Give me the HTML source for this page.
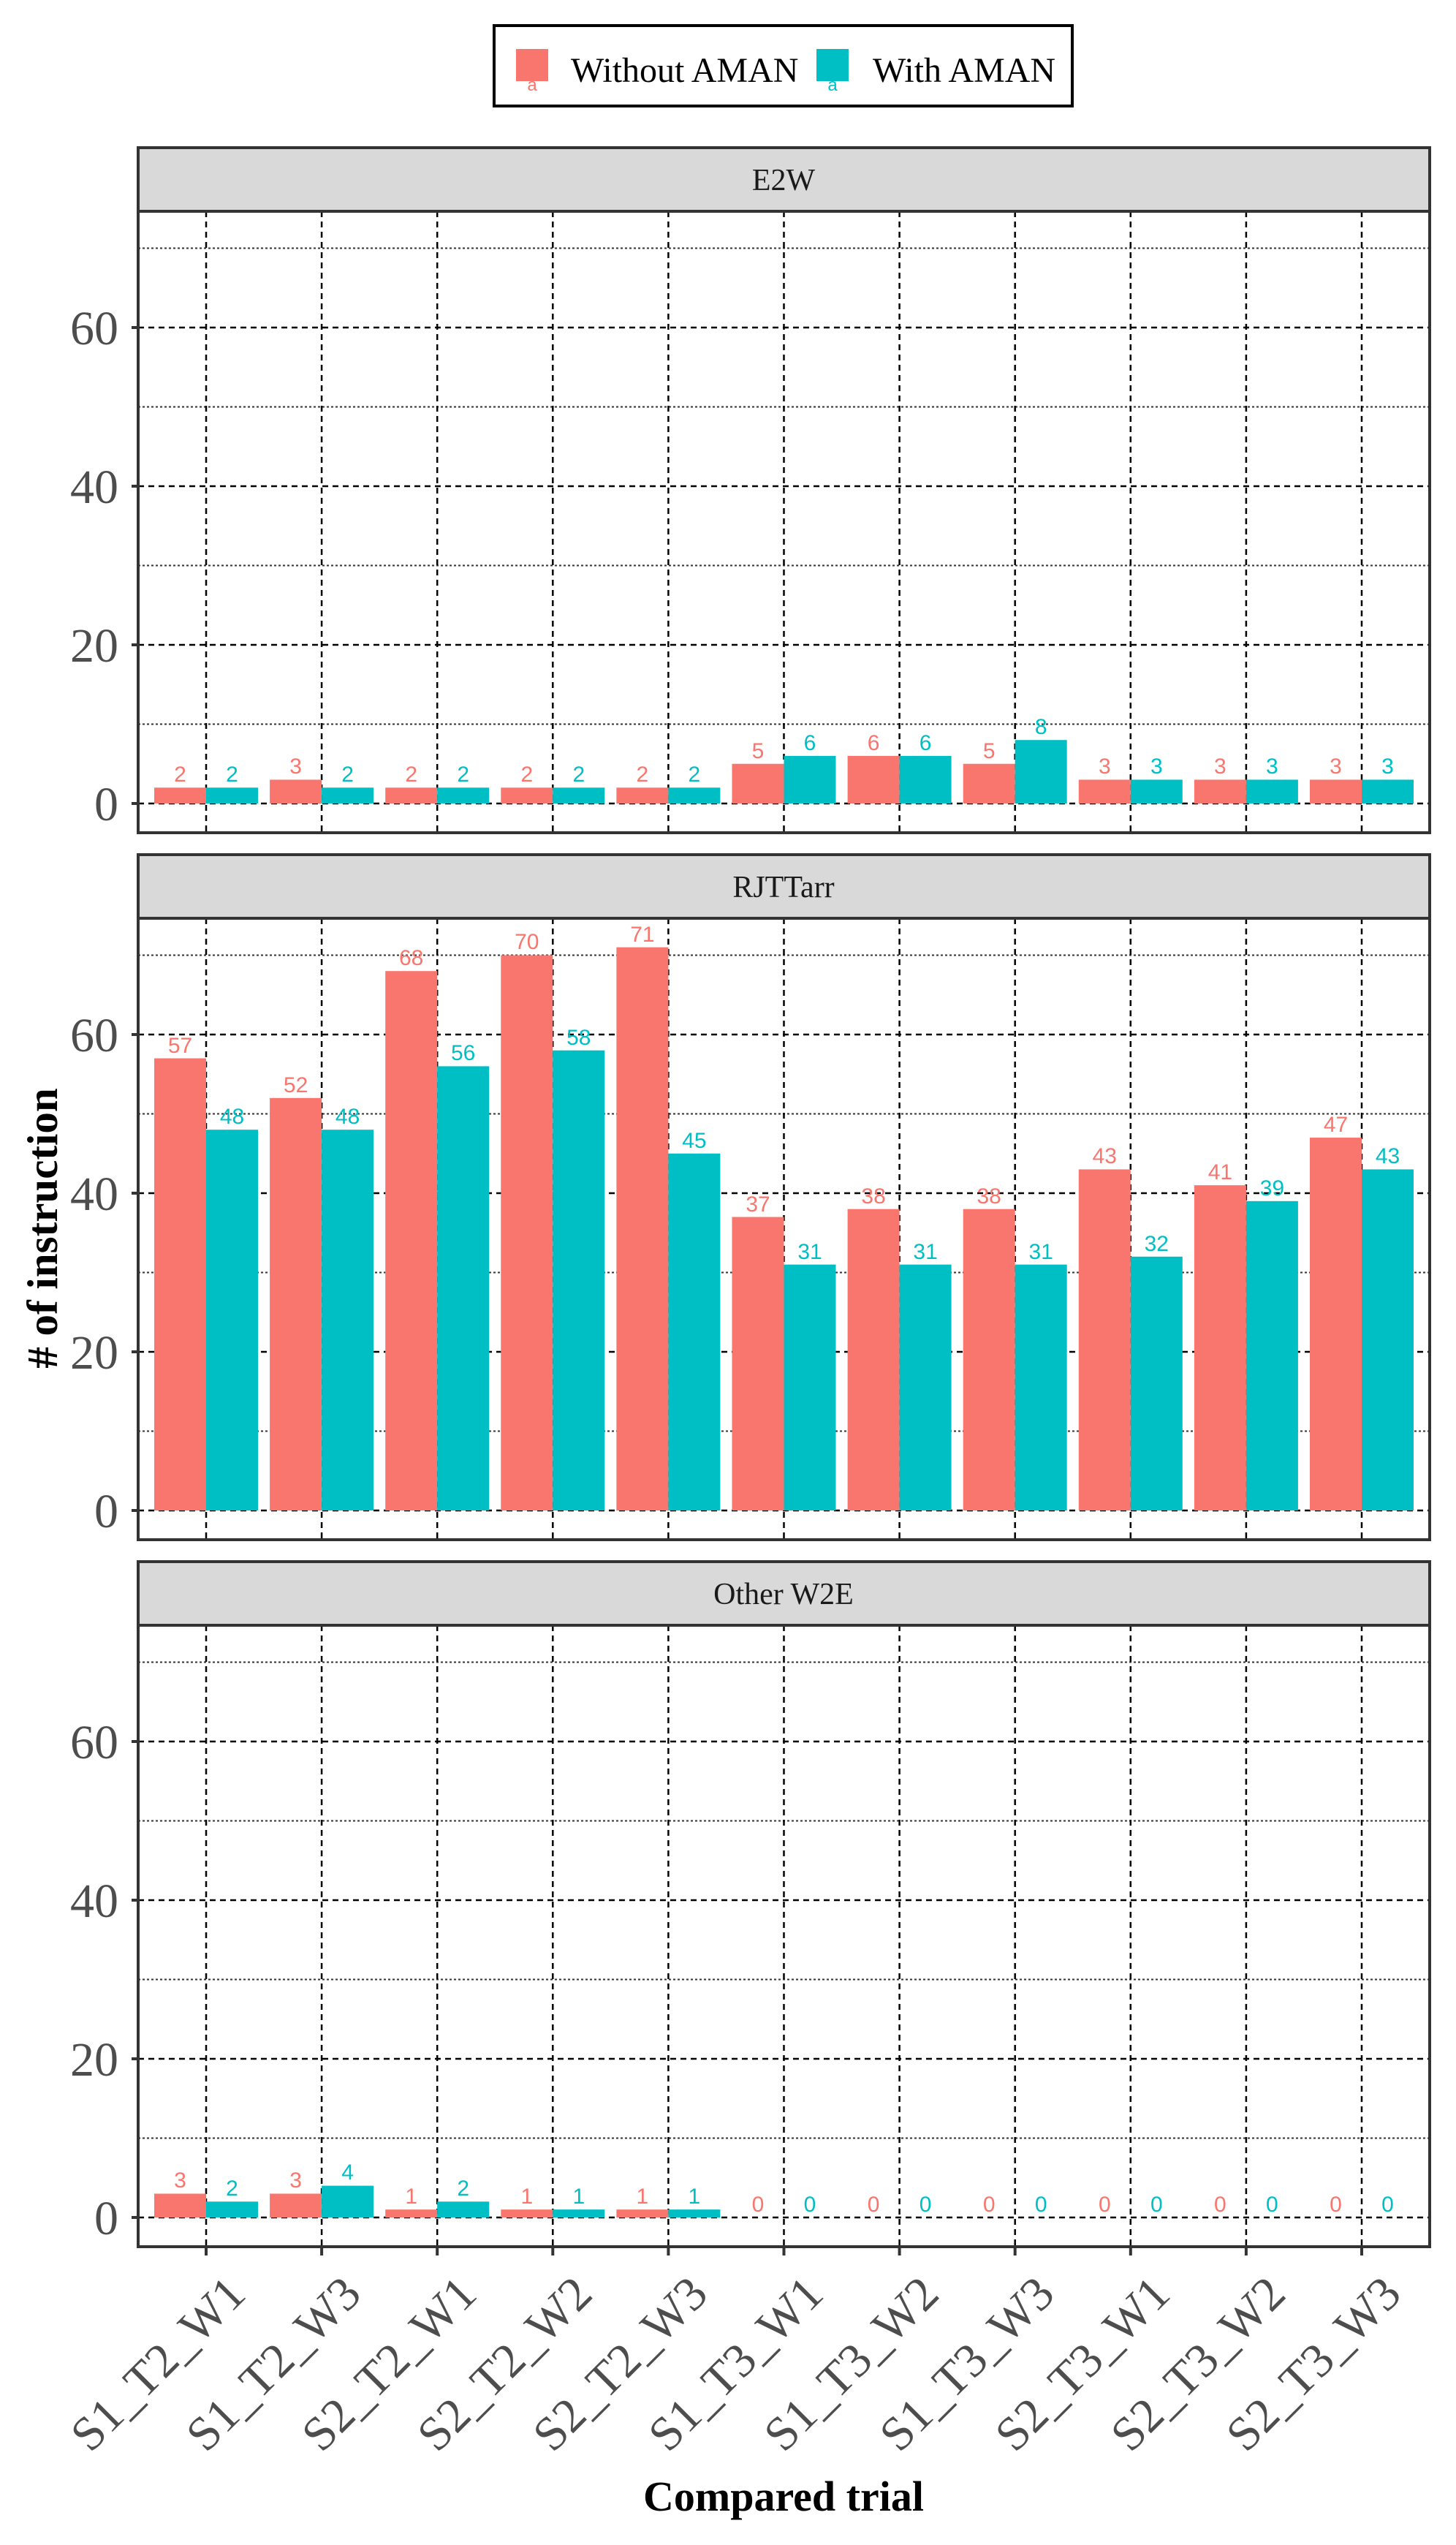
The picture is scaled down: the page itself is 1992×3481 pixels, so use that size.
<!DOCTYPE html>
<html><head><meta charset="utf-8"><style>html,body{margin:0;padding:0;background:#fff}svg{display:block}</style></head><body>
<svg width="1992" height="3481" viewBox="0 0 1992 3481" xmlns="http://www.w3.org/2000/svg" font-family="Liberation Serif, serif">
<rect width="1992" height="3481" fill="#fff"/>
<!-- legend -->
<rect x="676" y="35" width="791" height="110" fill="#fff" stroke="#000" stroke-width="4"/>
<rect x="706" y="67" width="44" height="44" fill="#F8766D"/>
<text x="728" y="124" font-family="Liberation Sans, sans-serif" font-size="24" fill="#F8766D" text-anchor="middle">a</text>
<text x="781" y="112" font-size="48" fill="#000">Without AMAN</text>
<rect x="1117" y="67" width="44" height="44" fill="#00BFC4"/>
<text x="1139" y="124" font-family="Liberation Sans, sans-serif" font-size="24" fill="#00BFC4" text-anchor="middle">a</text>
<text x="1194" y="112" font-size="48" fill="#000">With AMAN</text>

<defs>
<g id="grid">
<rect x="189" y="289" width="1767" height="850" fill="#fff"/>
<g stroke="#333" stroke-width="2" stroke-dasharray="3,3">
<line x1="189" x2="1956" y1="990.5" y2="990.5"/><line x1="189" x2="1956" y1="773.5" y2="773.5"/><line x1="189" x2="1956" y1="556.5" y2="556.5"/><line x1="189" x2="1956" y1="339.5" y2="339.5"/>
</g>
<g stroke="#000" stroke-width="2.5" stroke-dasharray="8,6">
<line x1="189" x2="1956" y1="1099" y2="1099"/><line x1="189" x2="1956" y1="882" y2="882"/><line x1="189" x2="1956" y1="665" y2="665"/><line x1="189" x2="1956" y1="448" y2="448"/>
<line y1="289" y2="1139" x1="282" x2="282"/><line y1="289" y2="1139" x1="440.1" x2="440.1"/><line y1="289" y2="1139" x1="598.2" x2="598.2"/><line y1="289" y2="1139" x1="756.3" x2="756.3"/><line y1="289" y2="1139" x1="914.4" x2="914.4"/><line y1="289" y2="1139" x1="1072.5" x2="1072.5"/><line y1="289" y2="1139" x1="1230.6" x2="1230.6"/><line y1="289" y2="1139" x1="1388.7" x2="1388.7"/><line y1="289" y2="1139" x1="1546.8" x2="1546.8"/><line y1="289" y2="1139" x1="1704.9" x2="1704.9"/><line y1="289" y2="1139" x1="1863" x2="1863"/>
</g>
</g>
<g id="frame">
<rect x="189" y="202" width="1767" height="87" fill="#d9d9d9" stroke="#333" stroke-width="4"/>
<rect x="189" y="289" width="1767" height="850" fill="none" stroke="#333" stroke-width="4"/>
<g stroke="#333" stroke-width="4"><line x1="180" x2="189" y1="1099" y2="1099"/><line x1="180" x2="189" y1="882" y2="882"/><line x1="180" x2="189" y1="665" y2="665"/><line x1="180" x2="189" y1="448" y2="448"/></g>
<g font-size="66" fill="#4d4d4d" text-anchor="end"><text x="162" y="1122">0</text><text x="162" y="905">20</text><text x="162" y="688">40</text><text x="162" y="471">60</text></g>
</g>
</defs>

<!-- Panel 1 E2W -->
<g>
<use href="#grid"/>
<g transform="translate(0,1099) scale(1,-10.85)">
<g fill="#F8766D">
<rect x="211" y="0" width="71" height="2"/><rect x="369.1" y="0" width="71" height="3"/><rect x="527.2" y="0" width="71" height="2"/><rect x="685.3" y="0" width="71" height="2"/><rect x="843.4" y="0" width="71" height="2"/><rect x="1001.5" y="0" width="71" height="5"/><rect x="1159.6" y="0" width="71" height="6"/><rect x="1317.7" y="0" width="71" height="5"/><rect x="1475.8" y="0" width="71" height="3"/><rect x="1633.9" y="0" width="71" height="3"/><rect x="1792" y="0" width="71" height="3"/>
</g>
<g fill="#00BFC4">
<rect x="282" y="0" width="71" height="2"/><rect x="440.1" y="0" width="71" height="2"/><rect x="598.2" y="0" width="71" height="2"/><rect x="756.3" y="0" width="71" height="2"/><rect x="914.4" y="0" width="71" height="2"/><rect x="1072.5" y="0" width="71" height="6"/><rect x="1230.6" y="0" width="71" height="6"/><rect x="1388.7" y="0" width="71" height="8"/><rect x="1546.8" y="0" width="71" height="3"/><rect x="1704.9" y="0" width="71" height="3"/><rect x="1863" y="0" width="71" height="3"/>
</g>
</g>
<g font-family="Liberation Sans, sans-serif" font-size="30" text-anchor="middle">
<g fill="#F8766D"><text x="246.5" y="1069">2</text><text x="404.6" y="1058">3</text><text x="562.7" y="1069">2</text><text x="720.8" y="1069">2</text><text x="878.9" y="1069">2</text><text x="1037" y="1037">5</text><text x="1195.1" y="1026">6</text><text x="1353.2" y="1037">5</text><text x="1511.3" y="1058">3</text><text x="1669.4" y="1058">3</text><text x="1827.5" y="1058">3</text></g>
<g fill="#00BFC4"><text x="317.5" y="1069">2</text><text x="475.6" y="1069">2</text><text x="633.7" y="1069">2</text><text x="791.8" y="1069">2</text><text x="949.9" y="1069">2</text><text x="1108" y="1026">6</text><text x="1266.1" y="1026">6</text><text x="1424.2" y="1004">8</text><text x="1582.3" y="1058">3</text><text x="1740.4" y="1058">3</text><text x="1898.5" y="1058">3</text></g>
</g>
<use href="#frame"/>
<text x="1072" y="260" font-size="42" fill="#1a1a1a" text-anchor="middle">E2W</text>
</g>

<!-- Panel 2 RJTTarr -->
<g transform="translate(0,967)">
<use href="#grid"/>
<g transform="translate(0,1099) scale(1,-10.85)">
<g fill="#F8766D">
<rect x="211" y="0" width="71" height="57"/><rect x="369.1" y="0" width="71" height="52"/><rect x="527.2" y="0" width="71" height="68"/><rect x="685.3" y="0" width="71" height="70"/><rect x="843.4" y="0" width="71" height="71"/><rect x="1001.5" y="0" width="71" height="37"/><rect x="1159.6" y="0" width="71" height="38"/><rect x="1317.7" y="0" width="71" height="38"/><rect x="1475.8" y="0" width="71" height="43"/><rect x="1633.9" y="0" width="71" height="41"/><rect x="1792" y="0" width="71" height="47"/>
</g>
<g fill="#00BFC4">
<rect x="282" y="0" width="71" height="48"/><rect x="440.1" y="0" width="71" height="48"/><rect x="598.2" y="0" width="71" height="56"/><rect x="756.3" y="0" width="71" height="58"/><rect x="914.4" y="0" width="71" height="45"/><rect x="1072.5" y="0" width="71" height="31"/><rect x="1230.6" y="0" width="71" height="31"/><rect x="1388.7" y="0" width="71" height="31"/><rect x="1546.8" y="0" width="71" height="32"/><rect x="1704.9" y="0" width="71" height="39"/><rect x="1863" y="0" width="71" height="43"/>
</g>
</g>
<g font-family="Liberation Sans, sans-serif" font-size="30" text-anchor="middle">
<g fill="#F8766D"><text x="246.5" y="473">57</text><text x="404.6" y="527">52</text><text x="562.7" y="353">68</text><text x="720.8" y="331">70</text><text x="878.9" y="321">71</text><text x="1037" y="690">37</text><text x="1195.1" y="679">38</text><text x="1353.2" y="679">38</text><text x="1511.3" y="624">43</text><text x="1669.4" y="646">41</text><text x="1827.5" y="581">47</text></g>
<g fill="#00BFC4"><text x="317.5" y="570">48</text><text x="475.6" y="570">48</text><text x="633.7" y="483">56</text><text x="791.8" y="462">58</text><text x="949.9" y="603">45</text><text x="1108" y="755">31</text><text x="1266.1" y="755">31</text><text x="1424.2" y="755">31</text><text x="1582.3" y="744">32</text><text x="1740.4" y="668">39</text><text x="1898.5" y="624">43</text></g>
</g>
<use href="#frame"/>
<text x="1072" y="260" font-size="42" fill="#1a1a1a" text-anchor="middle">RJTTarr</text>
</g>

<!-- Panel 3 Other W2E -->
<g transform="translate(0,1934)">
<use href="#grid"/>
<g transform="translate(0,1099) scale(1,-10.85)">
<g fill="#F8766D">
<rect x="211" y="0" width="71" height="3"/><rect x="369.1" y="0" width="71" height="3"/><rect x="527.2" y="0" width="71" height="1"/><rect x="685.3" y="0" width="71" height="1"/><rect x="843.4" y="0" width="71" height="1"/>
</g>
<g fill="#00BFC4">
<rect x="282" y="0" width="71" height="2"/><rect x="440.1" y="0" width="71" height="4"/><rect x="598.2" y="0" width="71" height="2"/><rect x="756.3" y="0" width="71" height="1"/><rect x="914.4" y="0" width="71" height="1"/>
</g>
</g>
<g font-family="Liberation Sans, sans-serif" font-size="30" text-anchor="middle">
<g fill="#F8766D"><text x="246.5" y="1058">3</text><text x="404.6" y="1058">3</text><text x="562.7" y="1080">1</text><text x="720.8" y="1080">1</text><text x="878.9" y="1080">1</text><text x="1037" y="1091">0</text><text x="1195.1" y="1091">0</text><text x="1353.2" y="1091">0</text><text x="1511.3" y="1091">0</text><text x="1669.4" y="1091">0</text><text x="1827.5" y="1091">0</text></g>
<g fill="#00BFC4"><text x="317.5" y="1069">2</text><text x="475.6" y="1047">4</text><text x="633.7" y="1069">2</text><text x="791.8" y="1080">1</text><text x="949.9" y="1080">1</text><text x="1108" y="1091">0</text><text x="1266.1" y="1091">0</text><text x="1424.2" y="1091">0</text><text x="1582.3" y="1091">0</text><text x="1740.4" y="1091">0</text><text x="1898.5" y="1091">0</text></g>
</g>
<use href="#frame"/>
<text x="1072" y="260" font-size="42" fill="#1a1a1a" text-anchor="middle">Other W2E</text>
</g>

<!-- bottom ticks -->
<g stroke="#333" stroke-width="4">
<line x1="282" x2="282" y1="3073" y2="3085"/><line x1="440.1" x2="440.1" y1="3073" y2="3085"/><line x1="598.2" x2="598.2" y1="3073" y2="3085"/><line x1="756.3" x2="756.3" y1="3073" y2="3085"/><line x1="914.4" x2="914.4" y1="3073" y2="3085"/><line x1="1072.5" x2="1072.5" y1="3073" y2="3085"/><line x1="1230.6" x2="1230.6" y1="3073" y2="3085"/><line x1="1388.7" x2="1388.7" y1="3073" y2="3085"/><line x1="1546.8" x2="1546.8" y1="3073" y2="3085"/><line x1="1704.9" x2="1704.9" y1="3073" y2="3085"/><line x1="1863" x2="1863" y1="3073" y2="3085"/>
</g>
<g font-size="66" fill="#4d4d4d" text-anchor="end">
<text transform="translate(304,3106) rotate(-45)" dy="0.75em">S1_T2_W1</text>
<text transform="translate(462.1,3106) rotate(-45)" dy="0.75em">S1_T2_W3</text>
<text transform="translate(620.2,3106) rotate(-45)" dy="0.75em">S2_T2_W1</text>
<text transform="translate(778.3,3106) rotate(-45)" dy="0.75em">S2_T2_W2</text>
<text transform="translate(936.4,3106) rotate(-45)" dy="0.75em">S2_T2_W3</text>
<text transform="translate(1094.5,3106) rotate(-45)" dy="0.75em">S1_T3_W1</text>
<text transform="translate(1252.6,3106) rotate(-45)" dy="0.75em">S1_T3_W2</text>
<text transform="translate(1410.7,3106) rotate(-45)" dy="0.75em">S1_T3_W3</text>
<text transform="translate(1568.8,3106) rotate(-45)" dy="0.75em">S2_T3_W1</text>
<text transform="translate(1726.9,3106) rotate(-45)" dy="0.75em">S2_T3_W2</text>
<text transform="translate(1885,3106) rotate(-45)" dy="0.75em">S2_T3_W3</text>
</g>
<text x="1072" y="3434" font-size="58" font-weight="bold" fill="#000" text-anchor="middle">Compared trial</text>
<text transform="translate(78,1680) rotate(-90)" font-size="59" font-weight="bold" fill="#000" text-anchor="middle"># of instruction</text>
</svg>
</body></html>
